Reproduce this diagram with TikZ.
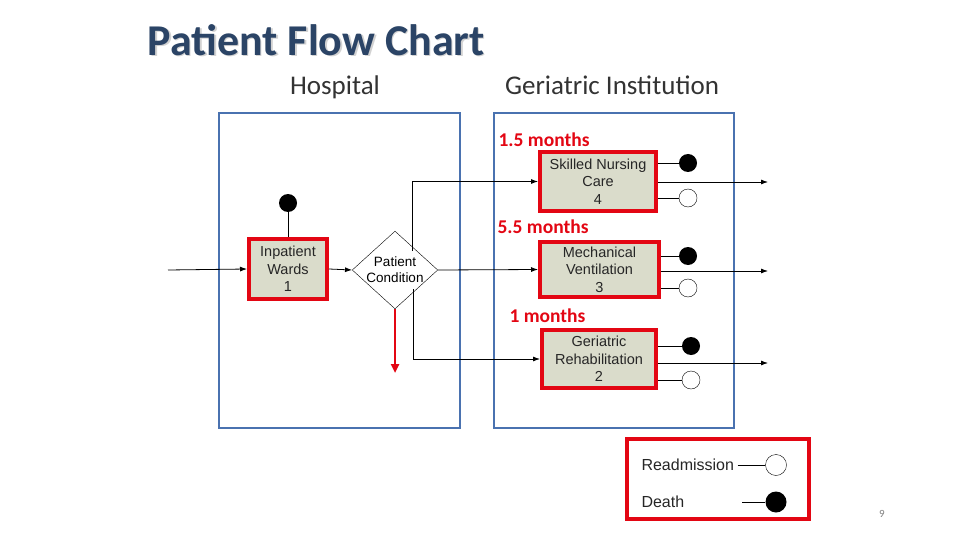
\documentclass[tikz,border=0pt]{standalone}
\usepackage{fontspec}
\setmainfont{Carlito}
\newfontfamily\arialf{Liberation Sans}
\usetikzlibrary{shapes.geometric,arrows.meta}
\definecolor{boxblue}{HTML}{4A72B0}
\definecolor{titleblue}{HTML}{2B4466}
\definecolor{fillg}{HTML}{DADCCB}
\definecolor{redb}{HTML}{E30613}
\begin{document}
\begin{tikzpicture}[x=1pt,y=-1pt,
  panel/.style={draw=boxblue,line width=1.5pt},
  unit/.style={draw=redb,line width=4pt,fill=fillg,inner sep=0pt,font=\arialf\fontsize{14.5}{17.5}\selectfont,align=center,text=black!85},
  dec/.style={diamond,draw,fill=white,minimum width=84pt,minimum height=76pt,inner sep=0pt,aspect=1.1,font=\arialf\fontsize{13.5}{16}\selectfont,align=center},
  dead/.style={circle,fill=black,minimum size=18pt,inner sep=0pt},
  readm/.style={circle,draw,fill=white,minimum size=18pt,inner sep=0pt},
  arr/.style={-{Latex[length=7pt,width=5pt]},line width=0.8pt},
  ln/.style={line width=0.8pt},
  mon/.style={text=redb,font=\bfseries\fontsize{19.5}{22}\selectfont}]
\useasboundingbox (0,0) rectangle (960,540);
\node[text=gray!35,font=\bfseries\fontsize{44}{48}\selectfont,anchor=west,inner sep=0pt] (title) at (149,41) {Patient Flow Chart};
\node[text=titleblue,font=\bfseries\fontsize{44}{48}\selectfont,anchor=west,inner sep=0pt] at (147.5,40) {Patient Flow Chart};
\node[font=\fontsize{27}{30}\selectfont,text=black!80] (hosp) at (335,87) {Hospital};
\node[font=\fontsize{27}{30}\selectfont,text=black!80] (ger) at (612,85) {Geriatric Institution};
\draw[panel] (219,113) rectangle (460,428);
\draw[panel] (494,113) rectangle (734,428);
\node[unit,minimum width=78pt,minimum height=60pt] (inp) at (288,269) {Inpatient\\Wards\\1};
\node[dec] (pc) at (395,270) {Patient\\Condition};
\node[unit,minimum width=116pt,minimum height=59pt] (snc) at (598,181.5) {Skilled Nursing\\Care\\4};
\node[unit,minimum width=119pt,minimum height=55pt] (mv) at (599.5,269.5) {Mechanical\\Ventilation\\3};
\node[unit,minimum width=114pt,minimum height=58pt] (gr) at (599,359) {Geriatric\\Rehabilitation\\2};
\node[mon,anchor=west] (m1) at (495,140) {1.5 months};
\node[mon,anchor=west] (m2) at (494,227) {5.5 months};
\node[mon,anchor=west] (m3) at (506,316) {1 months};
\coordinate (in) at (168,270);
\draw[arr] (in) -- (inp.west);
\draw[arr] (inp.east) -- (pc.west);
\node[dead] (d0) at (288,203) {};
\draw[ln] (inp.north) -- (d0);
\draw[arr] (pc.east) -- (mv.west);
\draw[arr] (412,251) |- (snc.west);
\draw[arr] (413,289) |- (gr.west);
\coordinate (rd) at (395,373);
\draw[-{Triangle[length=9pt,width=8pt]},draw=redb,fill=redb,line width=2.5pt] (pc.south) -- (rd);
\foreach \b/\y/\dy/\ry/\dx in {snc/182/163/198/688, mv/271/256/288/688, gr/363/346/380/691}{
  \node[dead] (\b d) at (\dx,\dy) {};
  \node[readm] (\b r) at (\dx,\ry) {};
  \draw[ln] (\b.east |- \b d) -- (\b d);
  \draw[ln] (\b.east |- \b r) -- (\b r);
  \coordinate (\b o) at (768,\y);
  \draw[arr] (\b.east |- \b o) -- (\b o);
}
\node[draw=redb,line width=4pt,minimum width=182pt,minimum height=80pt,inner sep=0pt] (leg) at (717.5,478.5) {};
\node[font=\arialf\fontsize{16}{18}\selectfont,anchor=west,text=black!85] (lr) at (638,465) {Readmission};
\node[font=\arialf\fontsize{16}{18}\selectfont,anchor=west,text=black!85] (ld) at (638,502) {Death};
\node[readm,minimum size=21pt] (lrc) at (776,465) {};
\node[dead,minimum size=21pt] (ldc) at (776,502) {};
\draw[ln] (lr.east) -- (lrc);
\draw[ln] (742,502) -- (ldc);
\node[text=gray,font=\fontsize{11}{12}\selectfont] (pg) at (882,514) {9};
\end{tikzpicture}
\end{document}
